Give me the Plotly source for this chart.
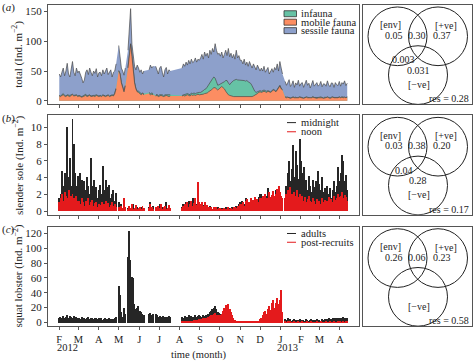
import plotly.graph_objects as go
import pandas as pd

W, H = 474, 361

# ---------------- sampling (every 2 days, None = no data) ----------------
SAMPLE_START = "2012-02-01"
SAMPLE_STEP_DAYS = 2

# ---------------- panel (a): community totals (Ind. m-2) ----------------
mobile = ([8, 7, 9, 10, 8, 7, 9, 8, 7, 9, 10, 8, 8, 9, 7]
          + [8, 7, 6, 7, 8, 9, 7, 8, 9, 7, 8, 8, 7, 9, 8, 7]
          + [8, 7, 9, 8, 7, 8, 9, 7, 8, 9, 8, 12, 20]
          + [None] + [50, 45, 30, 20, 15, 25] + [None]
          + [55, 80, 95, 75, 50, 30, 20, 15, 14, 12, 10, 12, 10]
          + [None, None, None] + [12, 10, 11, 10] + [None]
          + [8, 9, 7, 8, 9, 8, 7, 8, 9, 8, 7, 8]
          + [None, None, None, None, None, None, None, None]
          + [8, 9, 8, 9, 10, 9, 8, 10, 9, 10, 9, 10, 11, 10]
          + [10, 10, 11, 12, 12, 13, 15, 16, 18, 20, 22, 22, 20, 18, 20]
          + [22, 24, 22, 20, 16, 12, 10, 9, 8, 8, 7, 7, 7, 7, 6, 6]
          + [6, 6, 6, 6, 6, 6, 6, 7, 7, 8, 9, 10, 12, 14, 15]
          + [14, 15, 16, 15, 14, 16, 15, 14, 16, 18, 17, 15, 18, 22, 25, 20, 18]
          + [None]
          + [6, 5, 6, 5, 4, 5, 6, 5, 5, 4, 5, 6,
             5, 5, 4, 5, 6, 5, 5, 4, 5, 6, 5, 5,
             4, 5, 5, 6, 5, 4, 5, 5, 6, 5, 4, 5,
             6, 5, 5, 4, 5, 6, 5, 6, 5, 6, 5, 6])

infauna = ([1, 1, 1, 2, 1, 1, 1, 1, 2, 1, 1, 1, 1, 1, 1]
           + [1, 1, 1, 1, 1, 2, 1, 1, 1, 1, 1, 1, 2, 1, 1, 1]
           + [1, 1, 1, 1, 1, 1, 1, 1, 1, 1, 1, 1, 1]
           + [None] + [1, 1, 1, 1, 1, 1] + [None]
           + [1, 1, 1, 1, 1, 1, 1, 1, 2, 1, 2, 1, 2]
           + [None, None, None] + [2, 2, 2, 2] + [None]
           + [1, 2, 1, 2, 1, 2, 1, 2, 1, 2, 2, 2]
           + [None, None, None, None, None, None, None, None]
           + [1, 1, 2, 2, 2, 2, 2, 3, 3, 3, 3, 3, 3, 4]
           + [4, 5, 6, 7, 8, 10, 12, 14, 15, 17, 18, 16, 12, 8, 7]
           + [6, 5, 8, 12, 18, 22, 20, 18, 22, 25, 27, 28, 29, 28, 29, 28]
           + [28, 29, 28, 27, 28, 26, 25, 22, 18, 12, 7, 4, 3, 2, 2]
           + [2, 2, 2, 2, 2, 1, 1, 1, 1, 1, 1, 1, 1, 1, 1, 1, 1]
           + [None]
           + [0.5, 1, 0.5, 0.5, 1, 0.5, 0.5, 0.5, 1, 0.5, 0.5, 0.5,
              1, 0.5, 0.5, 0.5, 0.5, 1, 0.5, 0.5, 0.5, 1, 0.5, 0.5,
              0.5, 0.5, 1, 0.5, 0.5, 0.5, 1, 0.5, 0.5, 0.5, 0.5, 1,
              0.5, 0.5, 0.5, 1, 0.5, 0.5, 0.5, 0.5, 1, 0.5, 0.5, 0.5])

sessile = ([36, 32, 38, 43, 33, 42, 53, 36, 31, 42, 55, 39, 33, 45, 39]
           + [41, 37, 31, 22, 26, 37, 44, 35, 45, 40, 33, 41, 37, 44, 31, 39]
           + [39, 34, 42, 36, 42, 46, 34, 39, 43, 30, 39, 37, 41]
           + [None] + [42, 29, 24, 29, 27, 29] + [None]
           + [29, 39, 59, 19, 19, 27, 31, 44, 39, 35, 40, 32, 38]
           + [None, None, None] + [38, 48, 42, 46] + [None]
           + [49, 39, 37, 45, 48, 38, 32, 42, 46, 35, 43, 40]
           + [None, None, None, None, None, None, None, None]
           + [46, 52, 48, 54, 48, 57, 52, 57, 52, 53, 60, 52, 56, 54]
           + [58, 63, 53, 63, 55, 57, 45, 55, 45, 51, 42, 58, 53, 52, 53]
           + [47, 53, 42, 46, 51, 42, 58, 47, 50, 39, 44, 35, 49, 37, 41, 34]
           + [34, 27, 36, 27, 31, 26, 35, 31, 30, 42, 42, 38, 45, 39, 33]
           + [39, 33, 40, 31, 36, 39, 29, 35, 37, 29, 38, 36, 43, 27, 40, 34, 26]
           + [None]
           + [26, 20, 24, 30, 19, 22, 27, 17, 24, 22, 29, 18,
              23, 25, 18, 22, 28, 20, 24, 17, 22, 27, 19, 23,
              26, 19, 21, 26, 18, 24, 22, 19, 27, 21, 19, 24,
              23, 17, 25, 22, 20, 26, 19, 24, 22, 27, 20, 23])

# ---------------- panel (b): slender sole ----------------
midnight = ([1.5, 2, 4.8, 3, 4.5, 3.5, 10, 4, 6.3, 3, 11, 8, 4.5, 3, 4.2]
            + [2.5, 4.5, 3.7, 2, 3.5, 2.5, 4, 2.9, 2, 6.3, 3, 3.7, 2, 2.8, 1.5, 2.5]
            + [3.1, 2, 5.4, 2.5, 3.7, 2, 2.8, 3.1, 1.5, 2, 2.5, 1.2, 2.1]
            + [None] + [1.0, 0.5, 0.8, 0.3, 0.6, 0.4] + [None]
            + [0.3, 0.5, 0.2, 0.4, 0.8, 0.3, 0.2, 0.5, 0.3, 0.2, 0.4, 0.3, 0.2]
            + [None, None, None] + [0.5, 1.0, 0.3, 0.6] + [None]
            + [0.3, 0.5, 0.2, 0.8, 0.3, 0.4, 0.2, 0.5, 1.0, 0.3, 0.6, 0.2]
            + [None, None, None, None, None, None, None, None]
            + [0.5, 0.8, 0.3, 1.0, 0.6, 1.2, 0.5, 0.8, 1.5, 0.6, 1.2, 0.8, 1.0, 0.6]
            + [0.6, 0.4, 0.7, 0.3, 0.5, 0.2, 0.4, 0.6, 0.3, 0.2, 0.5, 0.3, 0.2, 0.4, 0.3]
            + [0.2, 0.3, 0.1, 0.2, 0.4, 0.2, 0.1, 0.3, 0.2, 0.5, 0.3, 0.2, 0.6, 0.4, 0.8, 1.0]
            + [1.2, 0.6, 0.8, 1.5, 0.7, 1.0, 0.5, 1.3, 0.8, 1.1, 0.6, 1.4, 0.9, 1.6, 2.0]
            + [2.0, 1.2, 1.5, 1.0, 1.8, 2.7, 1.3, 1.6, 1.1, 2.0, 1.4, 2.5, 1.2, 1.8, 1.5, 1.0, 1.4]
            + [None]
            + [1.5, 3.0, 4.5, 6.0, 3.5, 5.0, 7.9, 4.0, 7.1, 5.5, 3.8, 8.6,
               6.0, 4.5, 5.2, 3.0, 3.7, 2.5, 4.1, 3.0, 2.2, 3.7, 2.8, 3.5,
               2.0, 4.8, 3.2, 2.5, 4.0, 2.2, 2.7, 1.8, 3.0, 2.0, 2.7, 1.5,
               2.5, 3.5, 2.2, 3.0, 5.2, 3.5, 4.5, 6.7, 6.0, 3.5, 4.3, 2.5])

noon = ([1, 1.5, 2, 1.2, 2.3, 1.8, 1.5, 2.5, 1.2, 1.8, 2, 1.5, 1, 1.8, 1.2]
        + [1.2, 0.8, 1.5, 1, 0.6, 1.2, 0.8, 1.5, 0.7, 1, 1.3, 0.6, 0.9, 1.1, 0.5, 0.8]
        + [0.7, 1, 0.5, 0.8, 1.2, 0.6, 0.9, 0.5, 0.7, 1, 0.6, 0.8, 0.5]
        + [None] + [0.4, 0.3, 0.6, 0.3, 1.5, 0.4] + [None]
        + [0.2, 0.6, 0.3, 0.8, 0.2, 0.3, 0.7, 0.2, 0.3, 0.5, 0.2, 0.6, 0.3]
        + [None, None, None] + [0.3, 0.8, 0.4, 0.2] + [None]
        + [0.5, 0.2, 0.6, 0.3, 0.8, 0.2, 0.4, 0.6, 0.2, 0.3, 0.7, 0.3]
        + [None, None, None, None, None, None, None, None]
        + [0.3, 0.6, 0.8, 0.4, 1.0, 0.5, 0.8, 1.2, 0.6, 0.9, 1.5, 0.7, 3.4, 1.0]
        + [0.8, 1.0, 0.6, 1.1, 0.5, 0.7, 0.4, 0.3, 0.5, 0.2, 0.4, 0.3, 0.5, 0.2, 0.3]
        + [0.3, 0.1, 0.2, 0.3, 0.1, 0.2, 0.4, 0.2, 0.3, 0.2, 0.4, 0.5, 0.3, 0.6, 0.5, 0.8]
        + [0.8, 1.0, 0.6, 1.2, 1.4, 0.8, 1.1, 1.5, 1.0, 1.3, 1.6, 1.2, 1.4, 1.0, 1.5]
        + [1.5, 1.8, 1.2, 2.0, 1.5, 1.3, 2.2, 1.6, 1.9, 2.4, 1.8, 2.0, 2.6, 3.0, 2.2, 1.8, 1.5]
        + [None]
        + [1.5, 2.0, 2.5, 1.8, 2.8, 2.0, 1.5, 2.2, 1.8, 2.5, 1.6, 2.0,
           1.4, 1.8, 1.2, 1.6, 1.0, 1.4, 1.8, 1.2, 1.0, 1.5, 1.2, 0.8,
           1.4, 1.0, 1.2, 0.8, 1.5, 1.0, 1.3, 0.9, 1.2, 1.6, 1.0, 1.4,
           1.1, 1.8, 1.3, 1.5, 2.0, 1.6, 1.8, 2.2, 1.5, 1.9, 1.6, 1.2])

# ---------------- panel (c): squat lobster ----------------
adults = ([6, 8, 7, 9, 6, 8, 10, 7, 9, 8, 6, 9, 7, 8, 6]
          + [7, 5, 8, 6, 7, 5, 6, 8, 5, 7, 6, 5, 7, 6, 5, 6]
          + [5, 6, 4, 5, 6, 5, 4, 6, 5, 4, 5, 6, 8]
          + [None] + [50, 38, 15, 8, 20, 12] + [None]
          + [88, 124, 84, 62, 60, 25, 18, 20, 22, 16, 14, 12, 10]
          + [None, None, None] + [12, 13, 11, 12] + [None]
          + [12, 10, 8, 9, 8, 7, 9, 8, 7, 8, 9, 8]
          + [None, None, None, None, None, None, None, None]
          + [8, 6, 9, 7, 8, 10, 7, 9, 8, 7, 10, 8, 9, 10]
          + [9, 8, 10, 9, 11, 10, 12, 14, 16, 18, 20, 23, 18, 15, 13]
          + [12, 11, 10, 9, 10, 9, 8, 7, 6, 5, 4, 4, 3, 3, 3, 3]
          + [3, 3, 3, 2, 3, 2, 2, 3, 2, 2, 3, 2, 3, 3, 4]
          + [4, 4, 5, 4, 5, 4, 5, 4, 5, 5, 4, 5, 4, 5, 4, 3, 3]
          + [None]
          + [5, 4, 6, 4, 5, 3, 4, 5, 4, 3, 4, 5,
             3, 4, 4, 3, 5, 4, 3, 4, 5, 4, 3, 4,
             5, 4, 4, 3, 5, 4, 5, 4, 5, 6, 4, 5,
             6, 5, 6, 7, 5, 6, 7, 6, 8, 6, 7, 6])

post_recruits = ([0, 0, 0, 0, 0, 0, 0, 0, 0, 0, 0, 0, 0, 0, 0]
                 + [0, 0, 0, 0, 0, 0, 0, 0, 0, 0, 0, 0, 0, 0, 0, 0]
                 + [0, 0, 0, 0, 0, 0, 0, 0, 0, 0, 0, 0, 0]
                 + [None] + [0, 0, 0, 0, 0, 0] + [None]
                 + [0, 0, 0, 0, 0, 0, 0, 0, 0, 0, 0, 0, 0]
                 + [None, None, None] + [0, 0, 0, 0] + [None]
                 + [0, 0, 0, 0, 0, 0, 0, 0, 0, 0, 0, 0]
                 + [None, None, None, None, None, None, None, None]
                 + [1, 2, 2, 3, 2, 3, 3, 2, 3, 4, 3, 4, 4, 5]
                 + [5, 5, 6, 6, 7, 7, 8, 9, 10, 11, 12, 13, 11, 10, 9]
                 + [10, 12, 16, 20, 24, 22, 25, 18, 14, 10, 6, 4, 3, 3, 2, 2]
                 + [2, 2, 2, 2, 1, 1, 1, 1, 1, 1, 1, 1, 2, 3, 5]
                 + [6, 10, 14, 16, 12, 18, 22, 17, 26, 30, 20, 27, 34, 25, 30, 44, 15]
                 + [None]
                 + [1, 0.5, 1, 0.5, 1, 0.5, 0.5, 1, 0.5, 0.5, 1, 0.5,
                    0.5, 1, 0.5, 0.5, 0.5, 1, 0.5, 0.5, 1, 0.5, 0.5, 0.5,
                    1, 0.5, 0.5, 1, 0.5, 0.5, 0.5, 1, 0.5, 0.5, 1, 0.5,
                    0.5, 1, 0.5, 0.5, 1, 0.5, 1, 0.5, 1, 0.5, 1, 1])

# ---------------- axis ticks ----------------
month_ticks = ["2012-02-01", "2012-03-01", "2012-04-01", "2012-05-01", "2012-06-01",
               "2012-07-01", "2012-08-01", "2012-09-01", "2012-10-01", "2012-11-01",
               "2012-12-01", "2013-01-01", "2013-02-01", "2013-03-01", "2013-04-01"]
month_labels = ["F", "M", "A", "M", "J", "J", "A", "S", "O", "N", "D", "J", "F", "M", "A"]
x_range = ["2012-01-14 22:00", "2013-04-29 20:00"]

# ---------------- Venn partitions ----------------
venn_a = ["0.05", "0.30", "0.37", "0.003", "0.031", "res = 0.28"]
venn_b = ["0.03", "0.38", "0.20", "0.04", "0.28", "res = 0.17"]
venn_c = ["0.26", "0.06", "0.23", "", "", "res = 0.58"]
venn_sets = ["[env]", "[+ve]", "[\u2212ve]"]

series = [mobile, infauna, sessile, midnight, noon, adults, post_recruits]
N = len(mobile)
for s in series:
    assert len(s) == N, len(s)
dates = pd.date_range(SAMPLE_START, periods=N, freq=f"{SAMPLE_STEP_DAYS}D")

GREEN, ORANGE, BLUE = "#66c2a5", "#fc8d62", "#8da0cb"
RED = "#e41a1c"
BLACK = "#262626"
FRAME = "#555555"
FONT = "Liberation Serif"


def add(a, b):
    return [None if (u is None or v is None) else u + v for u, v in zip(a, b)]


lvl1 = mobile
lvl2 = add(mobile, infauna)
lvl3 = add(lvl2, sessile)

fig = go.Figure()
for yv, col in [(lvl3, BLUE), (lvl2, GREEN), (lvl1, ORANGE)]:
    fig.add_trace(go.Scatter(x=dates, y=yv, mode="lines", fill="tozeroy", fillcolor=col,
                             line=dict(color="#4a4a4a", width=0.7), connectgaps=False,
                             xaxis="x", yaxis="y", hoverinfo="skip"))

DAY = 86400000
fig.add_trace(go.Bar(x=dates, y=midnight, width=1.5 * DAY, marker=dict(color=BLACK, line=dict(width=0)),
                     xaxis="x2", yaxis="y2"))
fig.add_trace(go.Bar(x=dates, y=noon, width=1.5 * DAY, marker=dict(color=RED, line=dict(width=0)),
                     xaxis="x2", yaxis="y2"))
fig.add_trace(go.Bar(x=dates, y=adults, width=2 * DAY, marker=dict(color=BLACK, line=dict(width=0)),
                     xaxis="x3", yaxis="y3"))
fig.add_trace(go.Bar(x=dates, y=post_recruits, width=2 * DAY, marker=dict(color=RED, line=dict(width=0)),
                     xaxis="x3", yaxis="y3"))

# ---------------- geometry (pixels) ----------------
PX0, PX1 = 48, 359
VX0, VX1 = 362.5, 471.5
PANELS = [(5, 105), (116, 216), (228, 328)]


def pxx(x):
    return x / W


def pxy(y):
    return 1 - y / H


common_x = dict(type="date", range=x_range, domain=[pxx(PX0), pxx(PX1)], tickvals=month_ticks,
                ticks="outside", ticklen=3, tickcolor=FRAME, tickwidth=1, showline=True, mirror=True,
                linecolor=FRAME, linewidth=1, showgrid=False, zeroline=False)
common_y = dict(ticks="outside", ticklen=3, tickcolor=FRAME, tickwidth=1, showline=True, mirror=True,
                linecolor=FRAME, linewidth=1, showgrid=False, zeroline=False,
                tickfont=dict(size=11))
y_ranges = [[-6.2, 161.2], [-0.44, 11.44], [-5, 129]]
y_ticks = [[0, 50, 100, 150], [0, 2, 4, 6, 8, 10], [0, 20, 40, 60, 80, 100, 120]]

lay = {}
for k in range(3):
    sx = "" if k == 0 else str(k + 1)
    y0, y1 = PANELS[k]
    xa = dict(common_x, anchor="y" + sx, showticklabels=(k == 2))
    if k == 2:
        xa["ticktext"] = month_labels
        xa["tickfont"] = dict(size=10.5)
    lay["xaxis" + sx] = xa
    lay["yaxis" + sx] = dict(common_y, anchor="x" + sx, domain=[pxy(y1), pxy(y0)],
                             range=y_ranges[k], tickvals=y_ticks[k])
    vx = str(k + 4)
    lay["xaxis" + vx] = dict(domain=[pxx(VX0), pxx(VX1)], range=[0, VX1 - VX0], anchor="y" + vx,
                             showline=True, mirror=True, linecolor=FRAME, linewidth=1,
                             showticklabels=False, ticks="", showgrid=False, zeroline=False)
    lay["yaxis" + vx] = dict(domain=[pxy(y1), pxy(y0)], range=[y1 - y0, 0], anchor="x" + vx,
                             showline=True, mirror=True, linecolor=FRAME, linewidth=1,
                             showticklabels=False, ticks="", showgrid=False, zeroline=False)

fig.update_layout(width=W, height=H, margin=dict(l=0, r=0, t=0, b=0), paper_bgcolor="white",
                  plot_bgcolor="white", showlegend=False, barmode="overlay", bargap=0,
                  font=dict(family=FONT, size=11, color="#222222"), **lay)

shapes, ann = [], []


def note(x, y, text, xref="paper", yref="paper", xanchor="center", size=11, **kw):
    d = dict(x=x, y=y, xref=xref, yref=yref, text=text, showarrow=False, xanchor=xanchor,
             yanchor="middle", font=dict(size=size), borderpad=0)
    d.update(kw)
    ann.append(d)


# Venn circles and texts
R = 29.5
centers = [(35, 31.5), (75.5, 31.5), (55.5, 70.5)]
set_pos = [(28, 20), (83, 20.5), (56, 80)]
val_pos = [(31, 30.5), (54.5, 30.5), (79.5, 30.5), (41, 55), (55.8, 66)]
for k, vals in enumerate([venn_a, venn_b, venn_c]):
    vx = str(k + 4)
    for cx, cy in centers:
        shapes.append(dict(type="circle", xref="x" + vx, yref="y" + vx, x0=cx - R, x1=cx + R,
                           y0=cy - R, y1=cy + R, line=dict(color="#222222", width=1)))
    for (tx, ty), t in zip(set_pos, venn_sets):
        note(tx, ty, t, "x" + vx, "y" + vx, size=10)
    for (tx, ty), t in zip(val_pos, vals[:5]):
        if t:
            note(tx, ty, t, "x" + vx, "y" + vx, size=10)
    note(VX1 - VX0 - 2, PANELS[k][1] - PANELS[k][0] - 5.5, vals[5], "x" + vx, "y" + vx,
         xanchor="right", size=10)

# panel letters and y titles
for k, (lab, title) in enumerate([("a", "total (Ind. m<sup>\u22122</sup>)"),
                                  ("b", "slender sole (Ind. m<sup>\u22122</sup>)"),
                                  ("c", "squat lobster (Ind. m<sup>\u22122</sup>)")]):
    y0, y1 = PANELS[k]
    note(pxx(1), pxy(y0 + 3), "(<i>%s</i>)" % lab, xanchor="left")
    note(pxx(18), pxy((y0 + y1) / 2), title, textangle=-90)

# bottom texts
note(pxx(55.5), pxy(349.5), "2012", xanchor="left", size=10.5)
note(pxx(275.5), pxy(349.5), "2013", xanchor="left", size=10.5)
note(pxx(198.5), pxy(356.5), "time (month)", size=10.5)

# legends
leg_a = [("infauna", GREEN, 13.8), ("mobile fauna", ORANGE, 22.3), ("sessile fauna", BLUE, 30.8)]
for name, col, yc in leg_a:
    shapes.append(dict(type="rect", xref="paper", yref="paper", x0=pxx(284), x1=pxx(296.5),
                       y0=pxy(yc + 3), y1=pxy(yc - 3), fillcolor=col,
                       line=dict(color="#333333", width=0.8)))
    note(pxx(300), pxy(yc), name, xanchor="left", size=10.5)
for items in [[("midnight", BLACK, 123.3), ("noon", RED, 132.5)],
              [("adults", BLACK, 234.8), ("post-recruits", RED, 243.6)]]:
    for name, col, yc in items:
        shapes.append(dict(type="line", xref="paper", yref="paper", x0=pxx(287), x1=pxx(296),
                           y0=pxy(yc), y1=pxy(yc), line=dict(color=col, width=1)))
        note(pxx(300), pxy(yc), name, xanchor="left", size=10.5)

fig.update_layout(shapes=shapes, annotations=ann)
fig.write_html("out.html", config={"displayModeBar": False},
               post_script="document.body.style.margin='0px';document.body.style.overflow='hidden';")
